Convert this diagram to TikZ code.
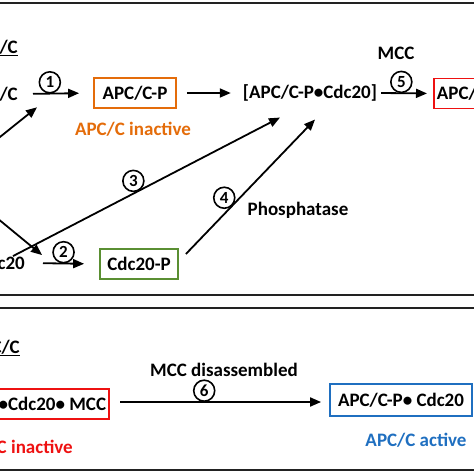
\documentclass[tikz,border=0pt]{standalone}
\usepackage{fontspec}
\setmainfont{Carlito}
\usepackage{tikz}
\usetikzlibrary{arrows.meta, positioning, calc}
\definecolor{BoxOrange}{HTML}{E46C0A}
\definecolor{BoxRed}{HTML}{EE1111}
\definecolor{BoxGreen}{HTML}{5A8F32}
\definecolor{BoxBlue}{HTML}{1F6FC0}
\definecolor{FrameGray}{HTML}{222222}
\tikzset{
    % Node styles
    species/.style={
        rectangle,
        inner sep=3pt,
        font=\fontsize{19}{20}\selectfont\bfseries
    },
    statebox/.style={
        species,
        draw=#1,
        line width=1.8pt,
        minimum height=30pt
    },
    statetext/.style={
        species,
        text=#1
    },
    stepnum/.style={
        circle,
        draw=black,
        fill=white,
        line width=1.6pt,
        minimum size=21pt,
        inner sep=0pt,
        font=\fontsize{17}{17}\selectfont\bfseries
    },
    % Arrow styles
    myarrow/.style={
        -{Triangle[length=11pt,width=9pt]},
        line width=1.8pt,
        black
    },
    % Panel frame
    panelframe/.style={
        draw=FrameGray,
        line width=1.6pt
    }
}

\begin{document}
\begin{tikzpicture}[x=1pt, y=-1pt]
    \useasboundingbox (0,0) rectangle (474,474);
    \clip (0,0) rectangle (474,474);

    % Panel frames
    \draw[panelframe] (-10,3) rectangle (484,295);
    \draw[panelframe] (-10,308) rectangle (484,470);

    % Top panel
    \node[species, anchor=east] (toptitle) at (21,48) {\underline{APC/C}};
    \node[species, anchor=east] (apc) at (21,94) {APC/C};
    \node[statebox=BoxOrange, minimum width=82pt] (apcp) at (135,93) {APC/C-P};
    \node[statetext=BoxOrange] (inact1) at (133,129) {APC/C inactive};
    \node[species] (cplx) at (310,93) {[APC/C-P•Cdc20]};
    \node[species] (mcc) at (396,53) {MCC};
    \node[statebox=BoxRed, anchor=west, minimum width=120pt] (mccbox) at (433,93.5) {APC/C-P•Cdc20•MCC};
    \node[species, anchor=east] (cdc) at (28,263) {Cdc20};
    \node[statebox=BoxGreen, minimum width=78pt] (cdcp) at (139,264) {Cdc20-P};
    \node[species] (phos) at (298,210) {Phosphatase};

    % Free ends of the arrows coming from outside
    \coordinate (inapc) at (-20,153);
    \coordinate (incdc) at (-20,204);

    % Top panel arrows
    \draw[myarrow] (inapc) -- ([shift={(16,3)}]apc.south east);
    \draw[myarrow] (incdc) -- ([shift={(14,2)}]cdc.north east);
    \draw[myarrow, shorten <=12pt, shorten >=14pt] (apc.east) -- (apcp.west)
        node[stepnum, pos=0.4, anchor=south] (n1) {1};
    \draw[myarrow, shorten <=10pt, shorten >=9pt] (apcp.east) -- (cplx.west);
    \draw[myarrow, shorten <=1pt, shorten >=6pt] (cplx.east) -- (mccbox.west)
        node[stepnum, pos=0.4, anchor=south] (n5) {5};
    \draw[myarrow, shorten <=15pt, shorten >=15pt] (cdc.east) -- (cdcp.west)
        node[stepnum, pos=0.5, anchor=south] (n2) {2};
    \draw[myarrow] ([shift={(-15,3)}]cdc.north east) -- ([shift={(-30,13)}]cplx.south)
        node[stepnum, pos=0.47, anchor=-63] (n3) {3};
    \draw[myarrow] ([shift={(7,-10)}]cdcp.east) -- ([shift={(5,15)}]cplx.south)
        node[stepnum, pos=0.36, anchor=-44] (n4) {4};

    % Bottom panel
    \node[species, anchor=east] (bottitle) at (23,348) {\underline{APC/C}};
    \node[statebox=BoxRed, anchor=east, minimum height=30pt] (inhib) at (110,404) {APC/C-P•Cdc20• MCC};
    \node[statetext=BoxRed, anchor=east] (inact2) at (76,447) {APC/C inactive};
    \node[species] (disas) at (224,370) {MCC disassembled};
    \node[statebox=BoxBlue, minimum width=142pt, minimum height=32pt] (active) at (401,400) {APC/C-P• Cdc20};
    \node[statetext=BoxBlue] (act) at (416,440) {APC/C active};

    % Bottom panel arrow
    \draw[myarrow, shorten <=10pt, shorten >=8pt] ([yshift=2pt]inhib.east) -- ([yshift=2pt]inhib.east -| active.west)
        node[stepnum, pos=0.43, anchor=south] (n6) {6};
\end{tikzpicture}
\end{document}
